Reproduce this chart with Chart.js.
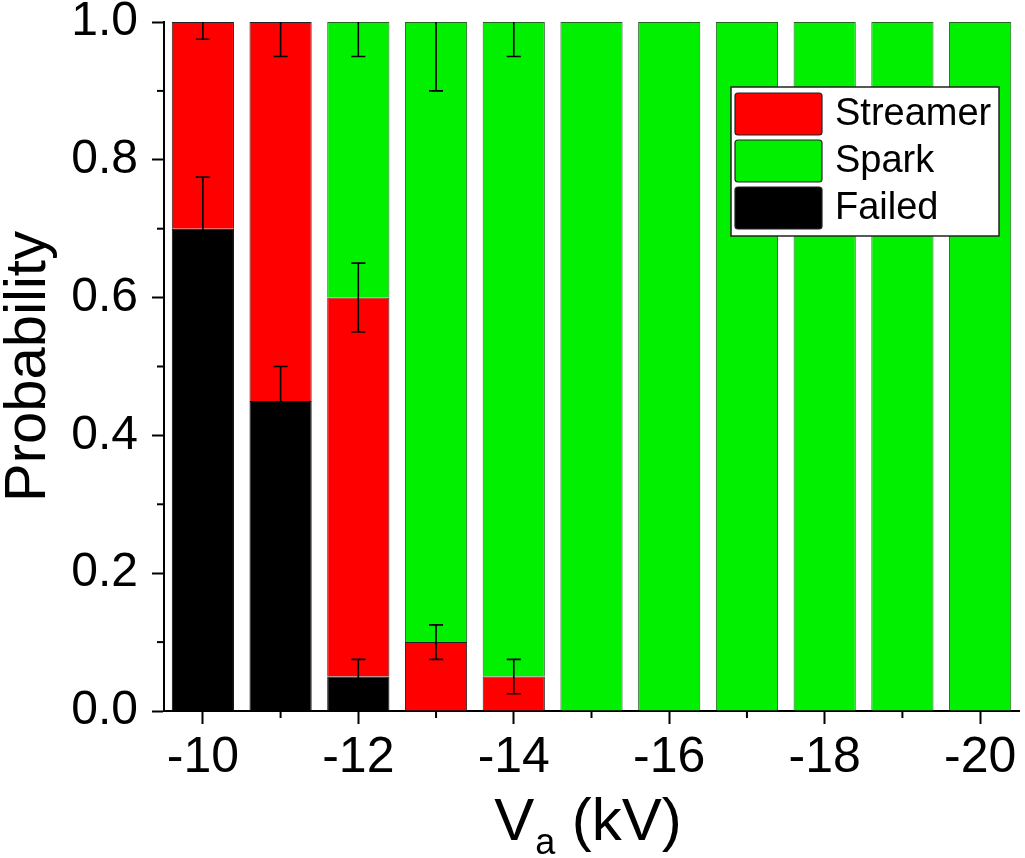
<!DOCTYPE html>
<html>
<head>
<meta charset="utf-8">
<script src="https://cdn.jsdelivr.net/npm/chart.js@4"></script>
<style>
  body { margin: 0; background: #fff; }
  canvas { display: block; }
</style>
</head>
<body>
<canvas id="chart" width="1025" height="858"></canvas>
<script>
// voltages (kV)
const voltages = ["-10", "-11", "-12", "-13", "-14", "-15", "-16", "-17", "-18", "-19", "-20"];

// probabilities, stacked bottom to top: Failed, Streamer, Spark
const failed   = [0.7, 0.45, 0.05, null, null, null, null, null, null, null, null];
const streamer = [0.3, 0.55, 0.55, 0.1, 0.05, null, null, null, null, null, null];
const spark    = [null, null, 0.4, 0.9, 0.95, 1, 1, 1, 1, 1, 1];

// error bars at the top of each segment
const failedErr   = [0.075, 0.05, 0.025, 0, 0, 0, 0, 0, 0, 0, 0];
const streamerErr = [0.025, 0.05, 0.05, 0.025, 0.025, 0, 0, 0, 0, 0, 0];
const sparkErr    = [0, 0, 0.05, 0.1, 0.05, 0, 0, 0, 0, 0, 0];

const yTicks = [0, 0.1, 0.2, 0.3, 0.4, 0.5, 0.6, 0.7, 0.8, 0.9, 1.0];

const FONT = "'Liberation Sans', Arial, sans-serif";
const RED = "#ff0000", GREEN = "#00f000", BLACK = "#000000";

const errors = [failedErr, streamerErr, sparkErr];

// error bars, drawn from the stacked values through the scales
const errorBars = {
  id: "errorBars",
  afterDatasetsDraw(chart) {
    const ctx = chart.ctx;
    const x = chart.scales.x, y = chart.scales.y;
    const area = chart.chartArea;
    ctx.save();
    ctx.beginPath();
    ctx.rect(area.left, area.top, area.right - area.left, area.bottom - area.top);
    ctx.clip();
    ctx.strokeStyle = "#000";
    ctx.lineWidth = 1.6;
    for (let j = 0; j < voltages.length; j++) {
      let sum = 0;
      for (let i = 0; i < chart.data.datasets.length; i++) {
        const v = chart.data.datasets[i].data[j];
        sum += v || 0;
        const e = errors[i][j];
        if (!e || !v) continue;
        const px = x.getPixelForValue(j);
        const y1 = y.getPixelForValue(sum - e);
        const y2 = y.getPixelForValue(sum + e);
        ctx.beginPath();
        ctx.moveTo(px, y1); ctx.lineTo(px, y2);
        ctx.moveTo(px - 7, y1); ctx.lineTo(px + 7, y1);
        ctx.moveTo(px - 7, y2); ctx.lineTo(px + 7, y2);
        ctx.stroke();
      }
    }
    ctx.restore();
  }
};

// short minor ticks, the x title with subscript, and the legend box
const extras = {
  id: "extras",
  afterDraw(chart) {
    const ctx = chart.ctx;
    const x = chart.scales.x, y = chart.scales.y;
    const area = chart.chartArea;
    ctx.save();
    ctx.strokeStyle = "#000";
    ctx.lineWidth = 2;
    // minor ticks
    x.ticks.forEach((t, i) => {
      if (i % 2 === 1) {
        const px = x.getPixelForTick(i);
        ctx.beginPath();
        ctx.moveTo(px, area.bottom);
        ctx.lineTo(px, area.bottom + 7);
        ctx.stroke();
      }
    });
    yTicks.forEach((v, i) => {
      if (i % 2 === 1) {
        const py = y.getPixelForValue(v);
        ctx.beginPath();
        ctx.moveTo(area.left, py);
        ctx.lineTo(area.left - 7, py);
        ctx.stroke();
      }
    });

    // x axis title: V_a (kV)
    ctx.fillStyle = "#000";
    ctx.textBaseline = "alphabetic";
    ctx.textAlign = "left";
    const big = "60px " + FONT, small = "36px " + FONT;
    ctx.font = big;
    const wV = ctx.measureText("V").width;
    const wRest = ctx.measureText(" (kV)").width;
    ctx.font = small;
    const wA = ctx.measureText("a").width;
    const cx = (area.left + area.right) / 2;
    let tx = cx - (wV + wA + wRest) / 2 - 4;
    const base = 840;
    ctx.font = big;
    ctx.fillText("V", tx, base);
    tx += wV;
    ctx.font = small;
    ctx.fillText("a", tx + 1, base + 14);
    tx += wA + 1;
    ctx.font = big;
    ctx.fillText(" (kV)", tx, base);

    // legend
    const lx = 731, ly = 87, lw = 268, lh = 149;
    ctx.fillStyle = "#fff";
    ctx.fillRect(lx, ly, lw, lh);
    ctx.strokeStyle = "#222";
    ctx.lineWidth = 1.5;
    ctx.strokeRect(lx, ly, lw, lh);
    const order = [1, 2, 0];
    ctx.font = "38px " + FONT;
    ctx.textBaseline = "middle";
    order.forEach((di, k) => {
      const ds = chart.data.datasets[di];
      const sy = 93 + k * 47;
      ctx.fillStyle = ds.backgroundColor;
      ctx.beginPath();
      ctx.roundRect(735, sy, 87, 42, 3);
      ctx.fill();
      ctx.strokeStyle = "#222";
      ctx.lineWidth = 1.2;
      ctx.stroke();
      ctx.fillStyle = "#000";
      ctx.fillText(ds.label, 835, sy + 22);
    });
    ctx.restore();
  }
};

new Chart(document.getElementById("chart"), {
  type: "bar",
  data: {
    labels: voltages,
    datasets: [
      { label: "Failed", data: failed, backgroundColor: BLACK, borderColor: "#000", borderWidth: 1 },
      { label: "Streamer", data: streamer, backgroundColor: RED, borderColor: "#222", borderWidth: 1 },
      { label: "Spark", data: spark, backgroundColor: GREEN, borderColor: "#226622", borderWidth: 1 },
    ],
  },
  options: {
    responsive: false,
    animation: false,
    layout: { padding: { top: 22, right: 6, left: 0, bottom: 0 } },
    datasets: { bar: { barPercentage: 0.8, categoryPercentage: 1.0 } },
    plugins: {
      legend: { display: false },
      tooltip: { enabled: false },
    },
    scales: {
      x: {
        stacked: true,
        offset: true,
        grid: {
          offset: false,
          drawOnChartArea: false,
          tickLength: 13,
          tickWidth: 2,
          tickColor: (c) => (c.index % 2 === 0 ? "#000" : "rgba(0,0,0,0)"),
        },
        border: { color: "#000", width: 2 },
        ticks: {
          autoSkip: false,
          maxRotation: 0,
          padding: 4,
          color: "#000",
          font: { family: FONT, size: 50 },
          callback: (value, index) => (index % 2 === 0 ? voltages[index] : ""),
        },
        afterFit: (scale) => {
          scale.height = 147;
          scale.paddingLeft = 0;
          scale.paddingRight = 0;
        },
      },
      y: {
        stacked: true,
        min: 0,
        max: 1,
        afterBuildTicks: (scale) => {
          scale.ticks = yTicks.map((v) => ({ value: v }));
        },
        grid: {
          drawOnChartArea: false,
          tickLength: 12,
          tickWidth: 2,
          tickColor: (c) => (c.index % 2 === 0 ? "#000" : "rgba(0,0,0,0)"),
        },
        border: { color: "#000", width: 2 },
        ticks: {
          padding: 14,
          color: "#000",
          font: { family: FONT, size: 48 },
          callback: (value, index) => (index % 2 === 0 ? value.toFixed(1) : ""),
        },
        title: {
          display: true,
          text: "Probability",
          color: "#000",
          padding: 0,
          font: { family: FONT, size: 58, lineHeight: 1 },
        },
        afterFit: (scale) => {
          scale.width = 164;
          scale.paddingTop = 0;
          scale.paddingBottom = 0;
        },
      },
    },
  },
  plugins: [errorBars, extras],
});
</script>
</body>
</html>
